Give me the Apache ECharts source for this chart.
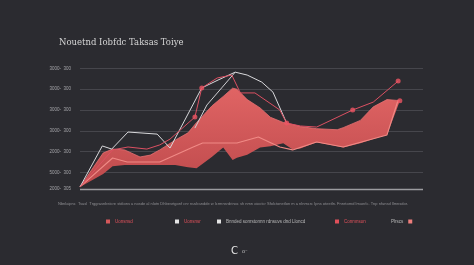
<!DOCTYPE html>
<html><head><meta charset="utf-8">
<script src="https://cdn.jsdelivr.net/npm/echarts@6/dist/echarts.min.js"></script>
<style>html,body{margin:0;padding:0;background:#2b2b30;}#c{width:474px;height:265px;}</style>
</head><body><div id="c"></div>
<script>
// ---- data ----
const titleText = 'Nouetnd Iobfdc Taksas Toiye';
const tickValues = [0, 80, 180, 280, 380, 480, 580];
const tickLabels = ['2000-  305', '5000-  300', '2000-  300', '3000-  300', '3000-  300', '3000-  300', '3000-  300'];

const bandX    = [0, 2.7, 3.8, 5.2, 7.0, 8.2, 9.3, 11.1, 12.6, 13.6, 15.4, 16.7, 17.8, 18.3, 19.5, 21.0, 22.2, 23.7, 24.8, 25.7, 27.6, 30.0, 30.7, 32.7, 34.2, 35.8, 37.3];
const bandHigh = [10, 173, 192, 188, 154, 163, 188, 235, 270, 320, 400, 445, 485, 480, 430, 390, 345, 320, 310, 300, 290, 285, 295, 330, 395, 430, 425];
const bandLow  = [10, 72, 110, 115, 115, 115, 115, 115, 105, 100, 155, 200, 140, 150, 165, 200, 205, 220, 190, 195, 225, 205, 200, 220, 240, 260, 425];

const lightX = [0, 3.8, 5.5, 9.3, 13.2, 14.3, 18.3, 20.8, 23.3, 24.8, 27.6, 30.7, 35.8, 37.1];
const lightY = [10, 149, 130, 130, 202, 221, 221, 250, 202, 188, 226, 202, 260, 428];

const whiteAX = [0, 2.6, 3.7, 5.6, 9.0, 10.5, 14.2, 16.1, 18.1, 19.5, 21.2, 22.5, 24.1];
const whiteAY = [10, 207, 192, 274, 264, 197, 486, 524, 562, 548, 514, 466, 317];

const whiteBX = [13.4, 14.8, 16.6, 18.1];
const whiteBY = [293, 404, 490, 562];

const pinkX = [0, 3.8, 5.6, 7.8, 9.3, 10.5, 13.4, 14.2, 16.0, 17.7, 18.7, 20.4, 23.3, 24.1, 25.7, 27.6, 31.8, 34.2, 37.1];
const pinkY = [10, 188, 202, 192, 212, 240, 346, 486, 534, 548, 462, 462, 380, 317, 303, 298, 380, 418, 519];

const dotX = [13.4, 14.2, 24.1, 31.8, 37.1, 37.3];
const dotY = [346, 486, 317, 380, 519, 425];

const legendNames = ['Uonsnsd', 'Uonsnsr', 'Bnnded sonrstonnn rdnsuvs dnd Lloncd', 'Conmnson', 'Plrscs'];
const footnote = 'Nbnlaipnc  Tsasl  Trggrasnbstcre stdions a nosde al nlotn Dhbesrtgonf cnr nuvlrandde w lcrmnsrdrinoc sh nmn oioctcr Sfolctonetlon m a nlnmcrc Ipns oteetln. Fnnrtornd lmuerlc. Tnp nfunsd Ilmnsdor.';

// ---- chart ----
const zip = (xs, ys) => xs.map((x, i) => [x, ys[i]]);
const chart = echarts.init(document.getElementById('c'), null, {renderer: 'canvas'});

const gridLines = tickValues.map((v, i) => ({
  yAxis: v,
  lineStyle: i === 0 ? {color: '#9c9ca0', width: 1.4, type: 'solid'} : {color: '#46464c', width: 1, type: 'solid'},
  label: {formatter: tickLabels[i]}
}));

const legendBase = {
  orient: 'horizontal', top: 219, padding: 0, itemGap: 2,
  itemWidth: 4, itemHeight: 4, icon: 'rect',
  textStyle: {fontSize: 4.5, fontFamily: 'Liberation Sans'}
};

chart.setOption({
  backgroundColor: '#2b2b30',
  animation: false,
  title: {
    text: titleText, left: 54, top: 33,
    textStyle: {color: '#d6d6d6', fontSize: 8.5, fontWeight: 'normal', fontFamily: 'DejaVu Serif'}
  },
  grid: {left: 80, right: 51, top: 68.4, bottom: 76},
  xAxis: {type: 'value', min: 0, max: 40, show: false},
  yAxis: {type: 'value', min: 0, max: 580, show: false},
  legend: [
    Object.assign({}, legendBase, {left: 106, data: [legendNames[0]], textStyle: Object.assign({}, legendBase.textStyle, {color: '#e0505a'})}),
    Object.assign({}, legendBase, {left: 175, data: [legendNames[1]], textStyle: Object.assign({}, legendBase.textStyle, {color: '#e0505a'})}),
    Object.assign({}, legendBase, {left: 217, data: [legendNames[2]], textStyle: Object.assign({}, legendBase.textStyle, {color: '#b8b8b8'})}),
    Object.assign({}, legendBase, {left: 335, data: [legendNames[3]], textStyle: Object.assign({}, legendBase.textStyle, {color: '#e0505a'})}),
    Object.assign({}, legendBase, {left: 391, align: 'right', data: [legendNames[4]], textStyle: Object.assign({}, legendBase.textStyle, {color: '#b8b8b8'})})
  ],
  graphic: [
    {type: 'text', left: 58, top: 202, silent: true,
     style: {text: footnote, fill: '#8e8e92', fontSize: 4, fontFamily: 'Liberation Sans'}},
    {type: 'text', left: 231, top: 246, silent: true,
     style: {text: 'C', fill: '#e8e8e8', fontSize: 10, fontFamily: 'DejaVu Sans'}},
    {type: 'text', left: 242, top: 249, silent: true,
     style: {text: 'o⁻', fill: '#c8c8c8', fontSize: 5, fontFamily: 'DejaVu Sans'}}
  ],
  series: [
    {
      type: 'line', z: 1, data: [], silent: true,
      markLine: {
        silent: true, symbol: 'none', animation: false, z: 1,
        label: {position: 'start', distance: 9, color: '#a4a4a8', fontSize: 4.5, fontFamily: 'Liberation Sans'},
        data: gridLines
      }
    },
    {
      name: legendNames[0], type: 'custom', z: 2,
      itemStyle: {color: '#d4585a'},
      data: [[0, 0]],
      encode: {x: 0, y: 1},
      renderItem: function (params, api) {
        const hi = bandX.map((x, i) => api.coord([x, bandHigh[i]]));
        const lo = bandX.map((x, i) => api.coord([x, bandLow[i]])).reverse();
        return {
          type: 'group',
          children: [
            {type: 'polygon', shape: {points: hi.concat(lo)},
             style: {fill: new echarts.graphic.LinearGradient(0, 0, 0, 1, [
               {offset: 0, color: 'rgba(224,100,100,1)'},
               {offset: 1, color: 'rgba(190,74,76,1)'}])}},
            {type: 'polyline', shape: {points: hi},
             style: {fill: null, stroke: '#e77072', lineWidth: 0.8}}
          ]
        };
      }
    },
    {
      name: legendNames[4], type: 'line', z: 3, data: zip(lightX, lightY),
      symbol: 'none', itemStyle: {color: '#ef7f7c'},
      lineStyle: {color: '#f08a86', width: 1.1}
    },
    {
      name: legendNames[1], type: 'line', z: 4, data: zip(whiteAX, whiteAY),
      symbol: 'none', itemStyle: {color: '#e4e4e4'},
      lineStyle: {color: '#d9d9dc', width: 1}
    },
    {
      name: legendNames[2], type: 'line', z: 4, data: zip(whiteBX, whiteBY),
      symbol: 'none', itemStyle: {color: '#e4e4e4'},
      lineStyle: {color: '#d0d0d4', width: 1}
    },
    {
      name: legendNames[3], type: 'line', z: 5, data: zip(pinkX, pinkY),
      symbol: 'none', itemStyle: {color: '#e0505a'},
      lineStyle: {color: '#dc5062', width: 1}
    },
    {
      type: 'scatter', z: 6, data: zip(dotX, dotY),
      symbol: 'circle', symbolSize: 5,
      itemStyle: {color: '#ee5563'}
    }
  ]
});
</script></body></html>
